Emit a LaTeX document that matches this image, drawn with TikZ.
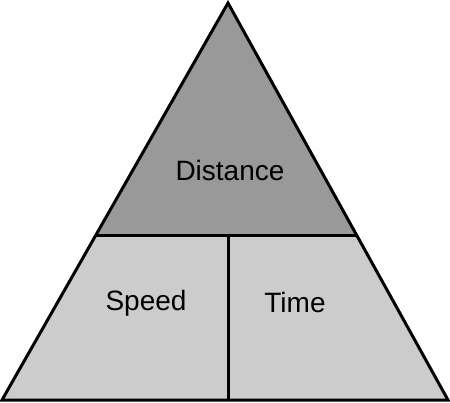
\documentclass[tikz,border=0pt]{standalone}
\usepackage{fontspec}
\setmainfont{Liberation Sans}
\usetikzlibrary{positioning}

\begin{document}
\begin{tikzpicture}[x=1pt, y=-1pt, line width=3pt, line join=miter,
    label/.style={font=\fontsize{28}{33}\selectfont}]
    \useasboundingbox (0,0) rectangle (450,403);
    \coordinate (apex) at (228,3);
    \coordinate (bl) at (2,400);
    \coordinate (br) at (448,400);
    \coordinate (ml) at (97,236);
    \coordinate (mr) at (357,236);
    \coordinate (mt) at (228,236);
    \coordinate (mb) at (228,400);
    \fill[gray!80] (apex) -- (mr) -- (ml) -- cycle;
    \fill[gray!40] (ml) -- (mr) -- (br) -- (bl) -- cycle;
    \draw (ml) -- (mr);
    \draw (mt) -- (mb);
    \draw (apex) -- (br) -- (bl) -- cycle;
    \node[label] (distance) at (230,170) {Distance};
    \node[label] (speed) at (146,303) {Speed};
    \node[label] (time) at (295,302) {Time};
\end{tikzpicture}
\end{document}
